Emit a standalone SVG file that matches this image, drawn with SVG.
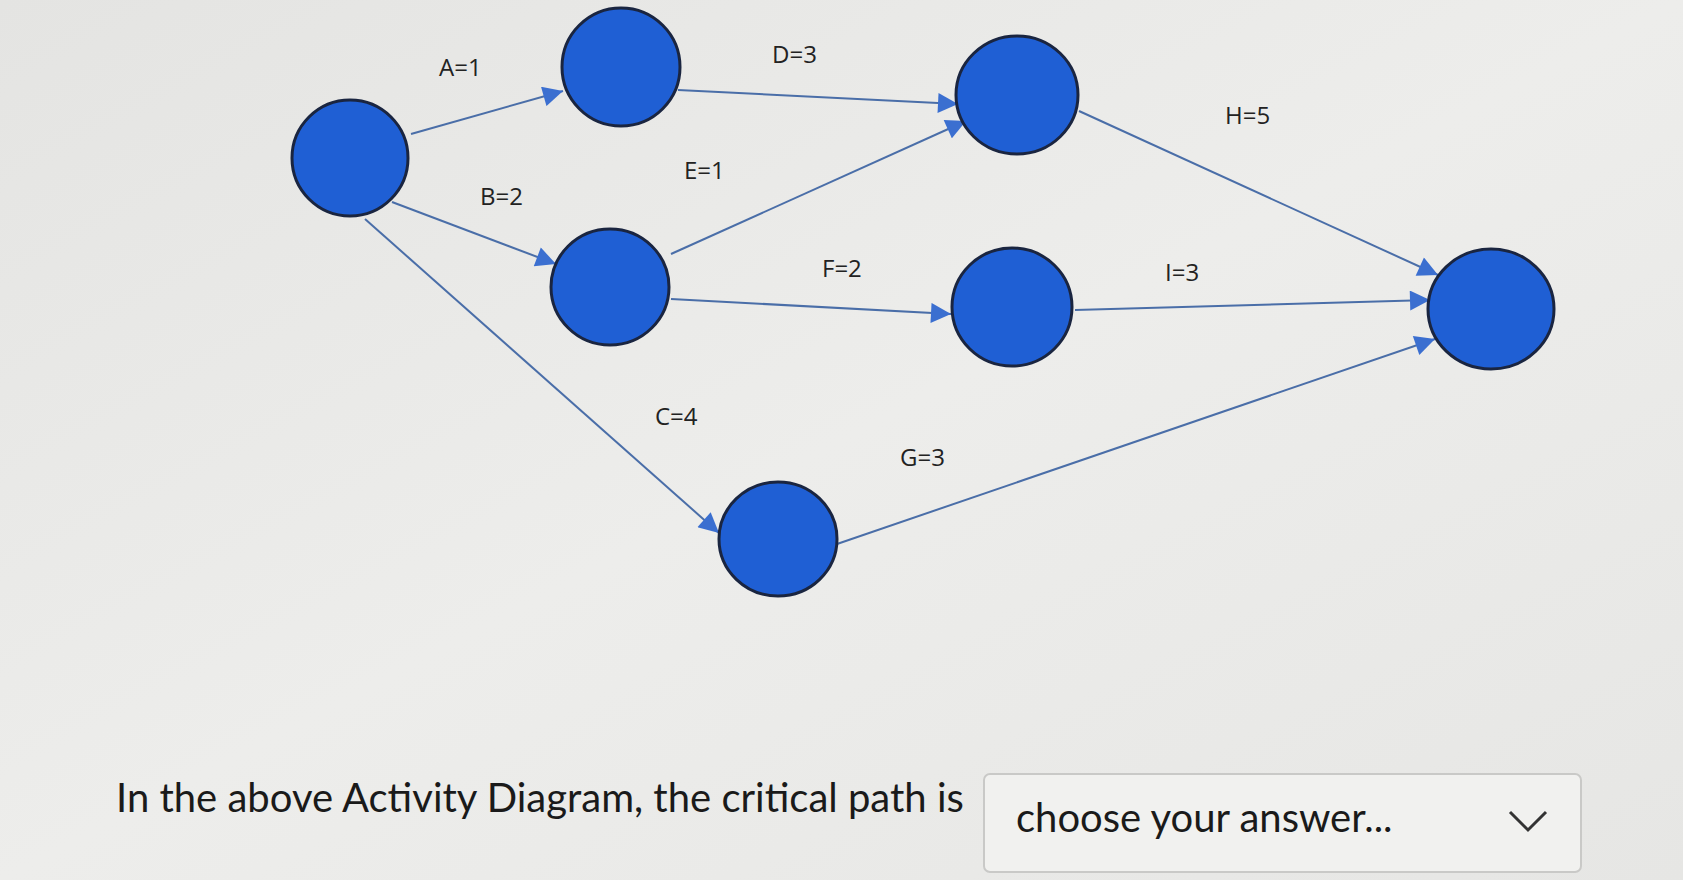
<svg xmlns="http://www.w3.org/2000/svg" width="1683" height="880" viewBox="0 0 1683 880">
<defs>
<linearGradient id="bg" x1="0" y1="0" x2="1" y2="1"><stop offset="0" stop-color="#e4e4e2"/><stop offset="0.5" stop-color="#ededeb"/><stop offset="1" stop-color="#e6e6e4"/></linearGradient>
<marker id="ar" viewBox="0 0 10 10" refX="10" refY="5" markerWidth="6" markerHeight="6" orient="auto" markerUnits="userSpaceOnUse"><path d="M0,0 L10,5 L0,10 z" fill="#3b6fd0"/></marker>
<marker id="arw" viewBox="0 0 10 10" refX="10" refY="5" markerWidth="22" markerHeight="20" orient="auto" markerUnits="userSpaceOnUse"><path d="M0,0 L10,5 L0,10 z" fill="#3b6fd0"/></marker>
</defs>
<style>
.n{fill:#1f5fd4;stroke:#1a2540;stroke-width:3}
.e{stroke:#4a6ea8;stroke-width:2;fill:none;marker-end:url(#arw)}
.l{font-family:"Open Sans","Liberation Sans",sans-serif;font-size:24px;fill:#222}
.q{font-family:"Lato","Liberation Sans",sans-serif;font-size:40px;fill:#1a1a1a}
</style>
<rect width="1683" height="880" fill="url(#bg)"/>
<g id="connectors">
<line class="e" x1="411" y1="134" x2="563" y2="91"/>
<line class="e" x1="392" y1="202" x2="556" y2="264"/>
<line class="e" x1="365" y1="219" x2="719" y2="533"/>
<line class="e" x1="678" y1="90" x2="958" y2="104"/>
<line class="e" x1="671" y1="254" x2="966" y2="121"/>
<line class="e" x1="671" y1="299" x2="951" y2="314"/>
<line class="e" x1="1079" y1="111" x2="1438" y2="275"/>
<line class="e" x1="1075" y1="310" x2="1430" y2="300"/>
<line class="e" x1="837" y1="544" x2="1435" y2="339"/>
</g>
<g id="labels">
<text class="l" x="439" y="76">A=1</text>
<text class="l" x="772" y="63">D=3</text>
<text class="l" x="1225" y="124">H=5</text>
<text class="l" x="684" y="179">E=1</text>
<text class="l" x="480" y="205">B=2</text>
<text class="l" x="822" y="277">F=2</text>
<text class="l" x="1165" y="281">I=3</text>
<text class="l" x="655" y="425">C=4</text>
<text class="l" x="900" y="466">G=3</text>
</g>
<g id="n1"><ellipse class="n" cx="350" cy="158" rx="58" ry="58"/></g>
<g id="n2"><ellipse class="n" cx="621" cy="67" rx="59" ry="59"/></g>
<g id="n3"><ellipse class="n" cx="1017" cy="95" rx="61" ry="59"/></g>
<g id="n4"><ellipse class="n" cx="610" cy="287" rx="59" ry="58"/></g>
<g id="n5"><ellipse class="n" cx="1012" cy="307" rx="60" ry="59"/></g>
<g id="n6"><ellipse class="n" cx="1491" cy="309" rx="63" ry="60"/></g>
<g id="n7"><ellipse class="n" cx="778" cy="539" rx="59" ry="57"/></g>
<text class="q" x="116" y="812">In the above Activity Diagram, the critical path is</text>
<g id="select">
<rect x="984" y="774" width="597" height="98" rx="6" fill="#f1f1ef" stroke="#c9c9c7" stroke-width="2"/>
<text class="q" x="1016" y="832">choose your answer...</text>
<polyline points="1510,812 1528,830 1546,812" fill="none" stroke="#333" stroke-width="3"/>
</g>
</svg>
